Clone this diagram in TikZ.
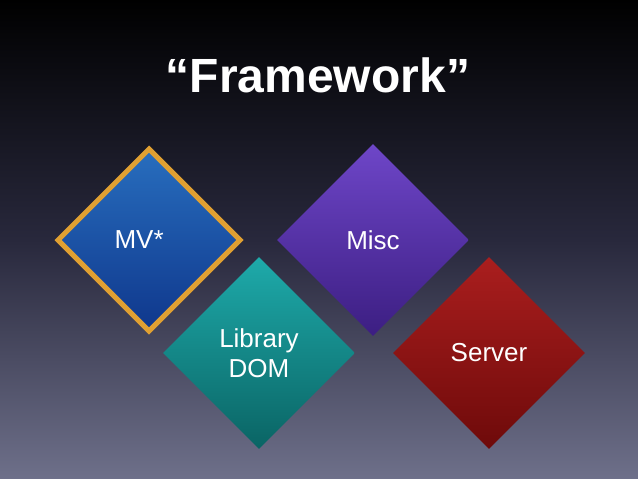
\documentclass[tikz,border=0pt]{standalone}
\usepackage{fontspec}
\setmainfont{Liberation Sans}
\usetikzlibrary{shapes.geometric}
\begin{document}
\begin{tikzpicture}[x=1pt,y=-1pt,
  dia/.style={diamond,aspect=1,minimum width=192pt,minimum height=192pt,inner sep=0pt,text=white,font=\fontsize{26}{30}\selectfont,align=center}]
\fill[top color=black,bottom color={rgb,255:red,110;green,112;blue,138},middle color={rgb,255:red,40;green,40;blue,60}] (0,0) rectangle (638,479);
\useasboundingbox (0,0) rectangle (638,479);
\node[text=white,font=\bfseries\fontsize{48}{54}\selectfont] (title) at (318,75) {“Framework”};
\node[dia,minimum width=184pt,minimum height=184pt,top color={rgb,255:red,40;green,110;blue,190},bottom color={rgb,255:red,15;green,55;blue,140},draw={rgb,255:red,224;green,160;blue,50},line width=5pt] (mv) at (149,240) {};
\node[text=white,font=\fontsize{26}{30}\selectfont,anchor=west] (mvt) at (111,240) {MV*};
\node[dia,top color={rgb,255:red,110;green,70;blue,200},bottom color={rgb,255:red,60;green,30;blue,130}] (misc) at (373,240) {Misc};
\node[dia,top color={rgb,255:red,30;green,170;blue,170},bottom color={rgb,255:red,10;green,100;blue,100}] (lib) at (259,353) {Library\\DOM};
\node[dia,top color={rgb,255:red,170;green,30;blue,30},bottom color={rgb,255:red,110;green,10;blue,10}] (srv) at (489,353) {Server};
\end{tikzpicture}
\end{document}
